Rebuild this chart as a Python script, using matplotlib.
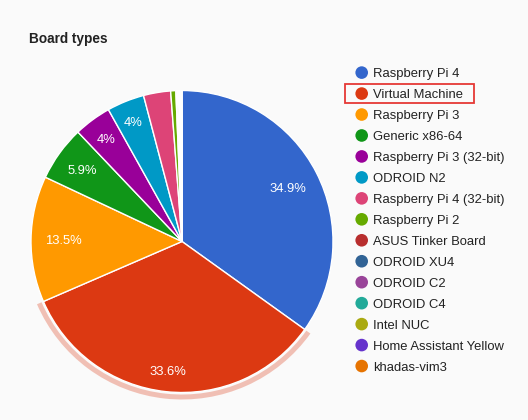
import matplotlib
matplotlib.use("Agg")
import math
import matplotlib.pyplot as plt
from matplotlib.patches import Wedge, Circle, Rectangle

plt.rcParams['font.family'] = ['Liberation Sans', 'DejaVu Sans']

title = "Board types"
categories = ["Raspberry Pi 4", "Virtual Machine", "Raspberry Pi 3", "Generic x86-64",
              "Raspberry Pi 3 (32-bit)", "ODROID N2", "Raspberry Pi 4 (32-bit)",
              "Raspberry Pi 2", "ASUS Tinker Board", "ODROID XU4", "ODROID C2",
              "ODROID C4", "Intel NUC", "Home Assistant Yellow", "khadas-vim3"]
values = [34.9, 33.6, 13.5, 5.9, 4.0, 4.0, 2.9, 0.55, 0.15, 0.12, 0.10, 0.09, 0.08, 0.06, 0.05]
colors = ["#3366cc", "#dc3912", "#ff9900", "#109618", "#990099", "#0099c6", "#dd4477",
          "#66aa00", "#b82e2e", "#316395", "#994499", "#22aa99", "#aaaa11", "#6633cc", "#e67300"]
highlight = "Virtual Machine"

BG = "#fafafa"
W, H = 528, 420
fig = plt.figure(figsize=(W / 100, H / 100), dpi=100, facecolor=BG)

# pie axes: center (182, 241.5) px, radius 151 px
cx, cy, R = 182, 241.5, 151
half = 165
ax = fig.add_axes([(cx - half) / W, (H - cy - half) / H, 2 * half / W, 2 * half / H])
ax.set_facecolor(BG)
ax.axis("off")

total = sum(values)

def fmt(v):
    p = v / total * 100
    s = f"{p:.1f}"
    if s.endswith(".0"):
        s = s[:-2]
    return s + "%"

wedges, _ = ax.pie(values, colors=colors, startangle=90, counterclock=False,
                   radius=1.0, wedgeprops=dict(edgecolor="white", linewidth=1.0))
ax.set_xlim(-half / R, half / R)
ax.set_ylim(-half / R, half / R)
ax.set_aspect("equal")

renderer = fig.canvas.get_renderer()
Rt = 137.5   # outer corner of label box sits on this radius (px)
cap = 9.0    # label cap height (px)

# labels
start = 90.0
for v, w in zip(values, wedges):
    span = v / total * 360
    mid = math.radians(start - span / 2)
    if v / total * 100 >= 3.5:
        t = ax.text(0, 0, fmt(v), color="white", fontsize=9.4, ha="center", va="baseline")
        tw = t.get_window_extent(renderer).width * 100 / fig.dpi
        ux, uy = math.cos(mid), math.sin(mid)
        c = (math.copysign(tw / 2, ux), math.copysign(cap / 2, uy))
        uc = ux * c[0] + uy * c[1]
        d = -uc + math.sqrt(uc * uc - (c[0] ** 2 + c[1] ** 2) + Rt * Rt)
        t.set_position((d * ux / R, d * uy / R - (cap / 2) / R))
    start -= span

# highlight halo
start = 90.0
for cat, v, c in zip(categories, values, colors):
    span = v / total * 360
    if cat == highlight:
        halo = Wedge((0, 0), 158 / R, start - span, start, width=5 / R,
                     facecolor=c, alpha=0.3, edgecolor="none")
        ax.add_patch(halo)
    start -= span

# overlay for title and legend in pixel coordinates
ov = fig.add_axes([0, 0, 1, 1], facecolor="none")
ov.set_xlim(0, W)
ov.set_ylim(H, 0)
ov.axis("off")

ov.text(29, 42.7, title, fontsize=9.8, fontweight="bold", color="#222222", ha="left", va="baseline")

y0, dy = 72.6, 20.96
for i, (cat, c) in enumerate(zip(categories, colors)):
    y = y0 + i * dy
    ov.add_patch(Circle((361.7, y), 6.3, facecolor=c, edgecolor="none"))
    ov.text(373.3, y + 4.6, cat, fontsize=9.4, color="#222222", ha="left", va="baseline")
    if cat == highlight:
        ov.add_patch(Rectangle((344.7, y - 10), 129.3, 19.7, facecolor="none",
                               edgecolor="#e53935", linewidth=1.3))

fig.savefig("out.png", dpi=100, facecolor=BG)
